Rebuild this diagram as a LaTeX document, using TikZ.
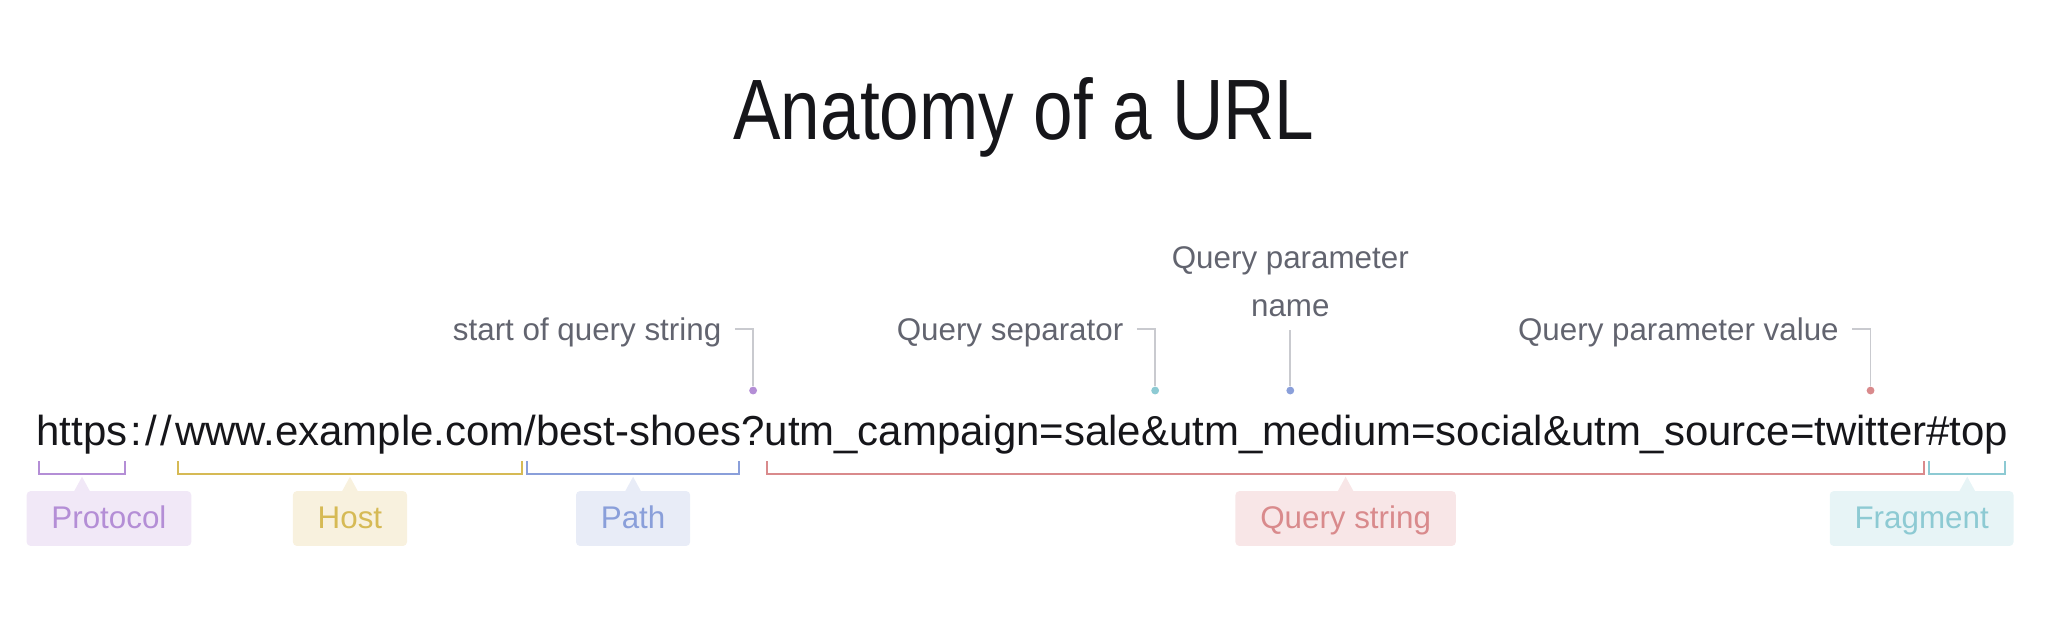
\documentclass[tikz,border=0pt]{standalone}
\usepackage{fontspec}
\setmainfont{Liberation Sans}
\newfontfamily\titlefont[FakeStretch=0.83]{Liberation Sans}
\usetikzlibrary{calc}
\definecolor{ink}{HTML}{16161A}
\definecolor{note}{HTML}{62646F}
\definecolor{leadgray}{HTML}{C9CACF}
\definecolor{cProto}{HTML}{B48ED6}
\definecolor{bgProto}{HTML}{F1E8F7}
\definecolor{cHost}{HTML}{D6BA55}
\definecolor{bgHost}{HTML}{F8F1DE}
\definecolor{cPath}{HTML}{8A9FDA}
\definecolor{bgPath}{HTML}{E8ECF7}
\definecolor{cQuery}{HTML}{D98A8C}
\definecolor{bgQuery}{HTML}{F8E6E7}
\definecolor{cFrag}{HTML}{8DCAD3}
\definecolor{bgFrag}{HTML}{E7F4F6}
\begin{document}
\begin{tikzpicture}[x=0.5pt,y=-0.5pt,
  part/.style={inner sep=0pt,outer sep=0pt,anchor=base west,text=ink,font=\fontsize{16.05}{19}\selectfont},
  brk/.style={line width=0.75pt},
  tag/.style={rounded corners=1.5pt,inner xsep=9.5pt,inner ysep=0pt,minimum height=21pt,text height=9pt,text depth=1pt,font=\fontsize{12}{14}\selectfont},
  lbl/.style={text=note,inner sep=0pt,font=\fontsize{12}{18.5}\selectfont},
  lead/.style={draw=leadgray,line width=0.65pt},
  pin/.style={circle,inner sep=0pt,minimum size=3pt}]
\useasboundingbox (0,0) rectangle (1568,486);
\node[anchor=base,text=ink,font=\titlefont\fontsize{32.8}{38}\selectfont] (title) at (784,107) {Anatomy of a URL};
\node[part] (proto) at (28,341) {https};
\node[part] (colon) at (proto.base east) {\kern1pt:\kern1.3pt/\kern1.3pt/\kern1.3pt};
\node[part] (host) at (colon.base east) {www.example.com};
\node[part] (path) at (host.base east) {/best-shoes};
\node[part] (qmark) at (path.base east) {?};
\node[part] (camp) at (qmark.base east) {utm\_campaign=sale};
\node[part] (amp) at (camp.base east) {\&};
\node[part] (pname) at (amp.base east) {utm\_medium};
\node[part] (rest) at (pname.base east) {=social\&utm\_source=};
\node[part] (pval) at (rest.base east) {twitter};
\node[part] (frag) at (pval.base east) {\#top};
\foreach \a/\b/\c/\f in {proto/proto/cProto/bgProto,host/host/cHost/bgHost,path/path/cPath/bgPath,camp/pval/cQuery/bgQuery,frag/frag/cFrag/bgFrag} {
  \draw[brk,\c] ([shift={(2,12)}]\a.base west) |- ([shift={(-2,22)}]\b.base east) -- ([shift={(-2,12)}]\b.base east);
  \coordinate (m\a) at ($(\a.base west)!0.5!(\b.base east)$);
  \fill[\f] ([shift={(0,24)}]m\a) -- ++(6,11) -- ++(-12,0) -- cycle;
}
\coordinate (tagrow) at (0,397);
\node[tag,fill=bgProto,text=cProto,anchor=west] (tProto) at (20,397) {Protocol};
\node[tag,fill=bgHost,text=cHost] (tHost) at (mhost |- tagrow) {Host};
\node[tag,fill=bgPath,text=cPath] (tPath) at (mpath |- tagrow) {Path};
\node[tag,fill=bgQuery,text=cQuery] (tQuery) at (mcamp |- tagrow) {Query string};
\node[tag,fill=bgFrag,text=cFrag,anchor=east] (tFrag) at (1542,397) {Fragment};
\coordinate (pinrow) at (0,299);
\coordinate (labrow) at (0,261);
\coordinate (mq) at ($(qmark.base west)!0.5!(qmark.base east)$);
\coordinate (ma) at ($(amp.base west)!0.5!(amp.base east)$);
\coordinate (mn) at ($(pname.base west)!0.5!(pname.base east)$);
\coordinate (mv) at ($(pval.base west)!0.5!(pval.base east)$);
\node[pin,fill=cProto] (pStart) at (mq |- pinrow) {};
\node[pin,fill=cFrag] (pSep) at (ma |- pinrow) {};
\node[pin,fill=cPath] (pName) at (mn |- pinrow) {};
\node[pin,fill=cQuery] (pValue) at (mv |- pinrow) {};
\node[lbl,anchor=base east] (lStart) at ([shift={(-24,0)}]pStart |- labrow) {start of query string};
\node[lbl,anchor=base east] (lSep) at ([shift={(-24,0)}]pSep |- labrow) {Query separator};
\node[lbl,anchor=base east] (lValue) at ([shift={(-24,0)}]pValue |- labrow) {Query parameter value};
\node[lbl,align=center,anchor=south] (lName) at (pName |- {0,243}) {Query parameter\\name};
\draw[lead] ([shift={(10,-9)}]lStart.base east) -| (pStart);
\draw[lead] ([shift={(10,-9)}]lSep.base east) -| (pSep);
\draw[lead] ([shift={(10,-9)}]lValue.base east) -| (pValue);
\draw[lead] ([shift={(0,10)}]lName.south) -- (pName);
\end{tikzpicture}
\end{document}
